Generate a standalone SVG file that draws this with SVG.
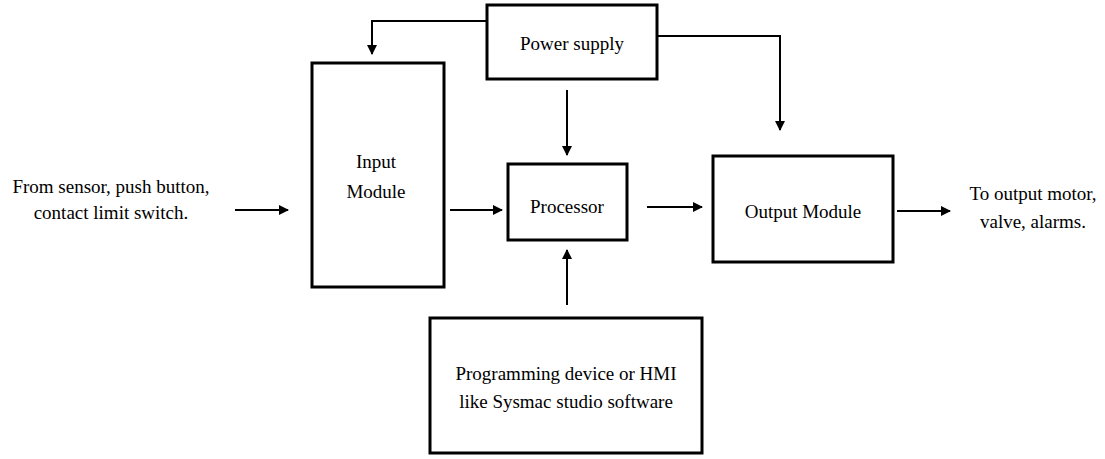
<svg xmlns="http://www.w3.org/2000/svg" width="1105" height="459" viewBox="0 0 1105 459">
<defs>
<marker id="ah" markerWidth="10" markerHeight="10" refX="9" refY="5" orient="auto" markerUnits="userSpaceOnUse">
<path d="M0,0 L10,5 L0,10 z" fill="#000"/>
</marker>
<style>
.box{fill:#fff;stroke:#000;stroke-width:3}
.ln{fill:none;stroke:#000;stroke-width:2;marker-end:url(#ah)}
text{font-family:"Liberation Serif","Times New Roman",serif;font-size:19px;fill:#000;text-anchor:middle}
</style>
</defs>
<rect width="1105" height="459" fill="#fff"/>
<g id="connectors">
<path class="ln" d="M487,21 H372 V54"/>
<path class="ln" d="M657,36 H780 V130"/>
<path class="ln" d="M567,90 V155"/>
<path class="ln" d="M235,210 H288"/>
<path class="ln" d="M450,210 H502"/>
<path class="ln" d="M647,207 H702"/>
<path class="ln" d="M897,211 H950"/>
<path class="ln" d="M567,305 V250"/>
</g>
<g id="power"><rect class="box" x="487" y="5" width="170" height="74"/><text x="572" y="50">Power supply</text></g>
<g id="input"><rect class="box" x="312" y="63" width="132" height="224"/><text x="376" y="168">Input</text><text x="376" y="198">Module</text></g>
<g id="processor"><rect class="box" x="508" y="164" width="119" height="76"/><text x="567" y="213">Processor</text></g>
<g id="output"><rect class="box" x="713" y="156" width="180" height="106"/><text x="803" y="218">Output Module</text></g>
<g id="prog"><rect class="box" x="430" y="318" width="272" height="135"/><text x="566" y="380">Programming device or HMI</text><text x="566" y="408">like Sysmac studio software</text></g>
<g id="src"><text x="111" y="193">From sensor, push button,</text><text x="111" y="219">contact limit switch.</text></g>
<g id="dst"><text x="1033" y="200">To output motor,</text><text x="1033" y="228">valve, alarms.</text></g>
</svg>
